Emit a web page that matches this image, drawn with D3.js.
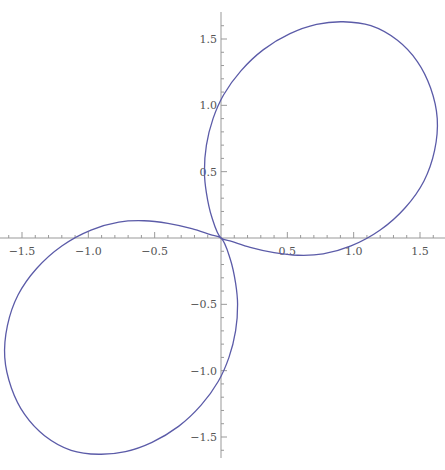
<!DOCTYPE html>
<html><head><meta charset="utf-8">
<script src="https://cdn.jsdelivr.net/npm/d3@7"></script>
<style>body{margin:0;background:#fff}</style>
</head><body><div id="chart"></div>
<script>
// upper petal points; the lower petal is the same shape turned half round
const petalX = [0, -0.07, -0.11, -0.125, -0.11, -0.06, 0.02, 0.15, 0.32, 0.52, 0.72, 0.92, 1.13, 1.33, 1.48, 1.58, 1.63, 1.61, 1.53, 1.39, 1.2, 0.98, 0.77, 0.58, 0.4, 0.22, 0.08];
const petalY = [0, 0.16, 0.34, 0.5, 0.7, 0.9, 1.08, 1.26, 1.42, 1.54, 1.61, 1.63, 1.6, 1.49, 1.33, 1.13, 0.9, 0.66, 0.43, 0.23, 0.06, -0.06, -0.12, -0.13, -0.11, -0.07, -0.025];
const majorTicks = [-1.5, -1.0, -0.5, 0.5, 1.0, 1.5];
const tickLabels = ["−1.5", "−1.0", "−0.5", "0.5", "1.0", "1.5"];

const width = 445, height = 470;
const svg = d3.select("#chart").append("svg").attr("width", width).attr("height", height);

const x = d3.scaleLinear().domain([-1.5, 1.5]).range([22, 420]);
const y = d3.scaleLinear().domain([-1.5, 1.5]).range([437, 39]);

const minor = d3.range(-16, 17).map(i => i / 10).filter(v => Math.abs(v) > 1e-9);
const axisColor = "#999";

// x axis
const gx = svg.append("g");
gx.append("line").attr("x1", 0).attr("x2", width).attr("y1", y(0)).attr("y2", y(0)).attr("stroke", axisColor);
gx.selectAll(".mn").data(minor).enter().append("line")
  .attr("x1", d => x(d)).attr("x2", d => x(d))
  .attr("y1", y(0)).attr("y2", d => y(0) - (Math.abs(d * 2 - Math.round(d * 2)) < 1e-9 ? 6 : 3))
  .attr("stroke", axisColor);
gx.selectAll("text").data(majorTicks).enter().append("text")
  .attr("x", d => x(d)).attr("y", y(0) + 17).attr("text-anchor", "middle")
  .attr("font-family", "DejaVu Serif").attr("font-size", 11).attr("fill", "#555")
  .text((d, i) => tickLabels[i]);

// y axis
const gy = svg.append("g");
gy.append("line").attr("x1", x(0)).attr("x2", x(0)).attr("y1", 12).attr("y2", 458).attr("stroke", axisColor);
gy.selectAll(".mn").data(minor).enter().append("line")
  .attr("y1", d => y(d)).attr("y2", d => y(d))
  .attr("x1", x(0)).attr("x2", d => x(0) + (Math.abs(d * 2 - Math.round(d * 2)) < 1e-9 ? 6 : 3))
  .attr("stroke", axisColor);
gy.selectAll("text").data(majorTicks).enter().append("text")
  .attr("x", x(0) - 4).attr("y", d => y(d) + 4).attr("text-anchor", "end")
  .attr("font-family", "DejaVu Serif").attr("font-size", 11).attr("fill", "#555")
  .text((d, i) => tickLabels[i]);

const upper = petalX.map((v, i) => [v, petalY[i]]);
const lower = upper.map(p => [-p[0], -p[1]]);
const line = d3.line().x(d => x(d[0])).y(d => y(d[1])).curve(d3.curveCatmullRomClosed.alpha(0.5));

svg.selectAll(".petal").data([upper, lower]).enter().append("path")
  .attr("d", line).attr("fill", "none").attr("stroke", "#5b5ba8").attr("stroke-width", 1.3);
</script>
</body></html>
